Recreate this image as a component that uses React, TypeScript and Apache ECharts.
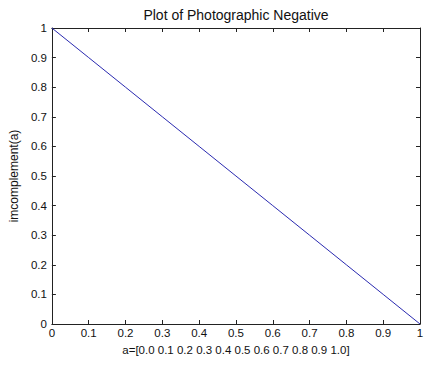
import React, { useEffect, useRef } from "react";
import * as echarts from "echarts";

const xValues = [0.0, 0.1, 0.2, 0.3, 0.4, 0.5, 0.6, 0.7, 0.8, 0.9, 1.0];
const yValues = [1.0, 0.9, 0.8, 0.7, 0.6, 0.5, 0.4, 0.3, 0.2, 0.1, 0.0];
const titleText = "Plot of Photographic Negative";
const xName = "a=[0.0 0.1 0.2 0.3 0.4 0.5 0.6 0.7 0.8 0.9 1.0]";
const yName = "imcomplement(a)";

const font = "'Liberation Sans', Arial, sans-serif";
const axisColor = "#222";
const textColor = "#111";

export default function App() {
  const ref = useRef<HTMLDivElement>(null);
  useEffect(() => {
    if (!ref.current) return;
    const chart = echarts.init(ref.current, null, { renderer: "svg" });
    const fmt = (v: number) => String(Math.round(v * 10) / 10);
    const baseAxis = {
      type: "value" as const,
      min: 0,
      max: 1,
      interval: 0.1,
      splitLine: { show: false },
      axisLine: { show: true, onZero: false, lineStyle: { color: axisColor, width: 1 } },
      axisTick: { show: true, inside: true, length: 4, lineStyle: { color: axisColor } },
    };
    chart.setOption({
      animation: false,
      backgroundColor: "#fff",
      title: {
        text: titleText,
        left: 231,
        top: 3,
        textAlign: "center",
        textStyle: { fontFamily: font, fontSize: 14, fontWeight: "normal", color: textColor },
      },
      grid: { left: 44, right: 26, top: 28, bottom: 42, containLabel: false },
      xAxis: [
        {
          ...baseAxis,
          position: "bottom",
          name: xName,
          nameLocation: "middle",
          nameGap: 20,
          nameTextStyle: { fontFamily: font, fontSize: 11.5, color: textColor },
          axisLabel: { formatter: fmt, fontFamily: font, fontSize: 11.5, color: textColor, margin: 3 },
        },
        {
          ...baseAxis,
          position: "top",
          axisLabel: { show: false },
        },
      ],
      yAxis: [
        {
          ...baseAxis,
          position: "left",
          name: yName,
          nameLocation: "middle",
          nameGap: 29,
          nameRotate: 90,
          nameTextStyle: { fontFamily: font, fontSize: 12, color: textColor },
          axisLabel: { formatter: fmt, fontFamily: font, fontSize: 11.5, color: textColor, margin: 5 },
        },
        {
          ...baseAxis,
          position: "right",
          axisLabel: { show: false },
        },
      ],
      series: [
        {
          type: "line",
          data: xValues.map((x, i) => [x, yValues[i]]),
          showSymbol: false,
          symbol: "none",
          lineStyle: { color: "#2a2ab0", width: 1 },
          xAxisIndex: 0,
          yAxisIndex: 0,
        },
      ],
    });
    return () => chart.dispose();
  }, []);
  return (
    <div
      ref={ref}
      style={{ position: "fixed", left: 0, top: 0, width: 446, height: 366, background: "#fff" }}
    />
  );
}
